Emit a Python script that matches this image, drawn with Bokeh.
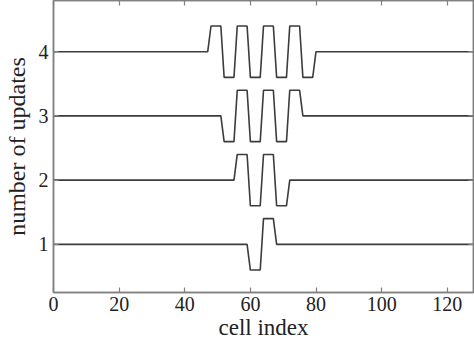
from bokeh.plotting import figure
from bokeh.models import LinearAxis, Range1d, FixedTicker
from bokeh.embed import file_html
from bokeh.resources import INLINE

# Data: vertices of each row (cell index, value)
x_row1 = [0, 59, 60, 63, 64, 67, 68, 128]
y_row1 = [1, 1, 0.6, 0.6, 1.4, 1.4, 1, 1]

x_row2 = [0, 55, 56, 59, 60, 63, 64, 67, 68, 71, 72, 128]
y_row2 = [2, 2, 2.4, 2.4, 1.6, 1.6, 2.4, 2.4, 1.6, 1.6, 2, 2]

x_row3 = [0, 51, 52, 55, 56, 59, 60, 63, 64, 67, 68, 71, 72, 75, 76, 128]
y_row3 = [3, 3, 2.6, 2.6, 3.4, 3.4, 2.6, 2.6, 3.4, 3.4, 2.6, 2.6, 3.4, 3.4, 3, 3]

x_row4 = [0, 47, 48, 51, 52, 55, 56, 59, 60, 63, 64, 67, 68, 71, 72, 75, 76, 79, 80, 128]
y_row4 = [4, 4, 4.4, 4.4, 3.6, 3.6, 4.4, 4.4, 3.6, 3.6, 4.4, 4.4, 3.6, 3.6, 4.4, 4.4, 3.6, 3.6, 4, 4]

x_ticks = [0, 20, 40, 60, 80, 100, 120]
y_ticks = [1, 2, 3, 4]

FONT = "Liberation Serif"
AXIS_COLOR = "#808080"
LINE_COLOR = "#3c3c3c"

p = figure(width=474, height=342, output_backend="svg", toolbar_location=None,
           x_range=Range1d(0, 128), y_range=Range1d(0.25, 4.797),
           x_axis_label="cell index", y_axis_label="number of updates",
           min_border_left=52, min_border_right=1, min_border_top=0, min_border_bottom=0)

p.xgrid.visible = False
p.ygrid.visible = False
p.outline_line_color = AXIS_COLOR
p.outline_line_width = 1.5
p.background_fill_color = "white"
p.border_fill_color = "white"

for xs, ys in [(x_row1, y_row1), (x_row2, y_row2), (x_row3, y_row3), (x_row4, y_row4)]:
    p.line(xs, ys, line_color=LINE_COLOR, line_width=1.6)

def style(ax, ticks, labels=True):
    ax.ticker = FixedTicker(ticks=ticks)
    ax.axis_line_color = AXIS_COLOR
    ax.axis_line_width = 1.5
    ax.major_tick_line_color = AXIS_COLOR
    ax.major_tick_line_width = 1.2
    ax.major_tick_in = 5
    ax.major_tick_out = 0
    ax.minor_tick_line_color = None
    if labels:
        ax.major_label_text_font = FONT
        ax.major_label_text_font_size = "20px"
        ax.major_label_text_color = "#222222"
        ax.axis_label_text_font = FONT
        ax.axis_label_text_font_size = "24px"
        ax.axis_label_text_font_style = "normal"
        ax.axis_label_text_color = "#222222"
    else:
        ax.major_label_overrides = {t: "" for t in ticks}
        ax.major_label_text_font_size = "1px"
        ax.major_label_standoff = 0

style(p.xaxis[0], x_ticks)
style(p.yaxis[0], y_ticks)
p.xaxis[0].major_label_standoff = 4
p.xaxis[0].axis_label_standoff = 1
p.xaxis[0].axis_label_text_font_size = "23px"
p.yaxis[0].major_label_standoff = 5
p.yaxis[0].axis_label_standoff = 6
p.yaxis[0].major_label_orientation = "horizontal"

top_ax = LinearAxis()
style(top_ax, x_ticks, labels=False)
p.add_layout(top_ax, "above")
right_ax = LinearAxis()
style(right_ax, y_ticks, labels=False)
p.add_layout(right_ax, "right")

open("out.html", "w").write(file_html(p, INLINE))
